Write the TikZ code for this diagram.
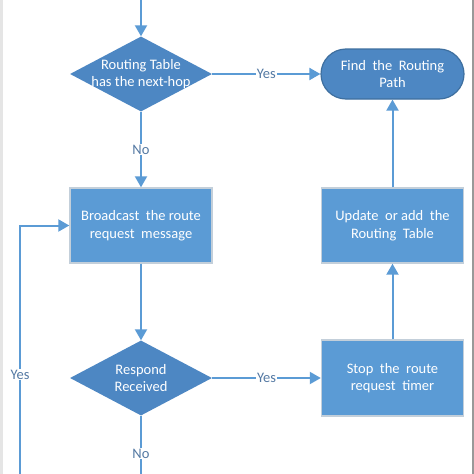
\documentclass[tikz,border=0pt]{standalone}
\usepackage{fontspec}
\setmainfont{Carlito}
\usetikzlibrary{shapes.geometric,arrows.meta}
\definecolor{lineblue}{HTML}{5B9BD5}
\definecolor{boxblue}{HTML}{5B9BD5}
\definecolor{decblue}{HTML}{4D87C3}
\definecolor{stadborder}{HTML}{3E6F9F}
\definecolor{boxborder}{HTML}{C3CFDA}
\definecolor{labelcol}{HTML}{5479A3}
\tikzset{
  procbox/.style={rectangle, fill=boxblue, draw=boxborder, line width=1.4pt,
    minimum width=142pt, minimum height=75pt, inner sep=0pt,
    text=white, align=center, font=\fontsize{14.5}{17.5}\selectfont},
  decbox/.style={diamond, fill=decblue, draw=none,
    minimum width=142pt, minimum height=75pt, inner sep=0pt},
  dectext/.style={text=white, align=center, font=\fontsize{14.5}{17.5}\selectfont},
  stadbox/.style={rectangle, rounded corners=25pt, fill=decblue, draw=stadborder, line width=1.2pt,
    minimum width=143pt, minimum height=50pt, inner sep=0pt,
    text=white, align=center, font=\fontsize{14.5}{17.5}\selectfont},
  conn/.style={draw=lineblue, line width=2pt},
  arr/.style={conn, -{Triangle[length=11pt,width=12pt]}},
  lbl/.style={fill=white, text=labelcol, inner sep=1pt, font=\fontsize{14.5}{16}\selectfont},
}
\begin{document}
\begin{tikzpicture}[x=1pt,y=-1pt]
\useasboundingbox (0,0) rectangle (474,474);
\fill[white] (0,0) rectangle (474,474);
\fill[black!10] (0,0) rectangle (2.5,474);
\fill[black!40] (471.5,0) rectangle (474,474);

\node[decbox, label={[dectext]center:{Routing Table\\has the next-hop}}] (d1) at (141,74) {};
\node[stadbox] (find) at (392.5,74) {Find~ the~ Routing\\Path};
\node[procbox] (bcast) at (141,225.5) {Broadcast~~the route\\request~~message};
\node[procbox] (upd) at (392.5,225.5) {Update~~or add~~the\\Routing~~Table};
\node[decbox, label={[dectext]center:{Respond\\Received}}] (d2) at (141,378) {};
\node[procbox, minimum height=76pt] (stop) at (392.5,378) {Stop~~the~~route\\request~~timer};

\coordinate (top) at (141,0);
\coordinate (bot) at (141,474);
\coordinate (loopb) at (20,474);

\draw[arr] (top) -- (d1.north);
\draw[arr] (d1.east) -- node[lbl, midway] {Yes} (find.west);
\draw[arr] (d1.south) -- node[lbl, midway] {No} (bcast.north);
\draw[arr] (bcast.south) -- (d2.north);
\draw[arr] (d2.east) -- node[lbl, midway] {Yes} (stop.west);
\draw[conn] (d2.south) -- node[lbl, pos=0.65] {No} (bot);
\draw[arr] (stop.north) -- (upd.south);
\draw[arr] (upd.north) -- (find.south);
\draw[arr] (loopb) |- node[lbl, pos=0.2] {Yes} (bcast.west);
\end{tikzpicture}
\end{document}
